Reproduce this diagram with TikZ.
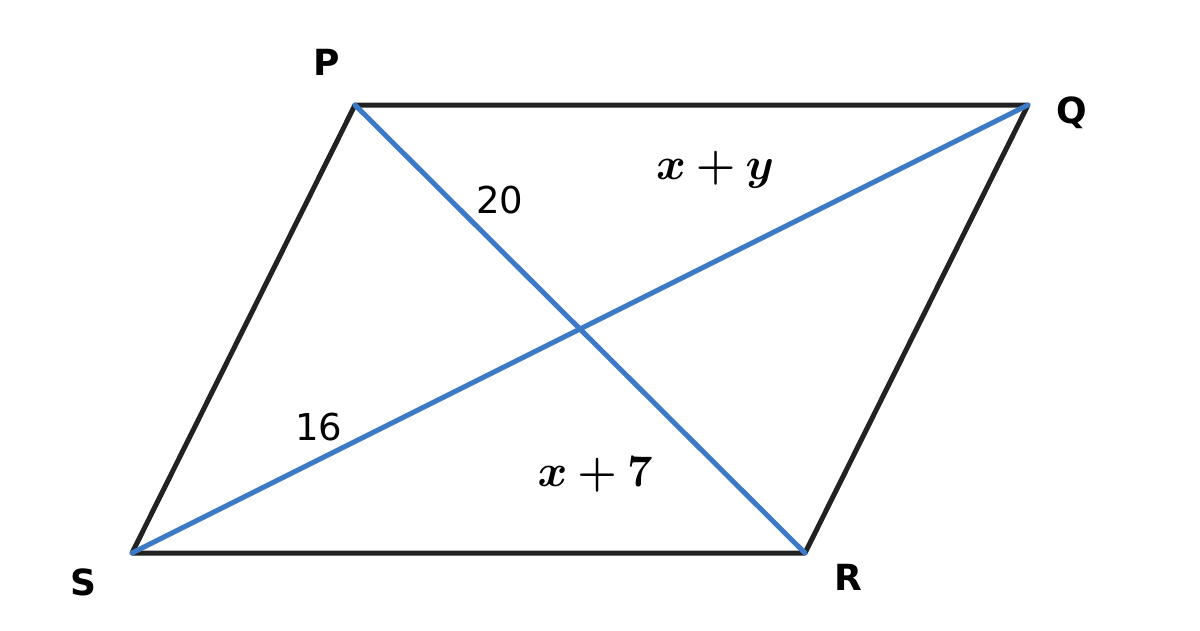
\documentclass[tikz,border=0pt]{standalone}
\usepackage{amsmath,bm,graphicx}
\usepackage{fontspec}
\newfontfamily\dejavu{DejaVu Sans}
\newfontfamily\dejavub{DejaVu Sans Bold}
\definecolor{edgeblack}{RGB}{34,34,34}
\definecolor{diagblue}{RGB}{60,122,200}
\newcommand{\bigmath}[1]{\scalebox{2.18}{$\bm{#1}$}}
\begin{document}
\begin{tikzpicture}[x=1pt,y=-1pt,
  side/.style={draw=edgeblack,line width=5pt,line cap=round,line join=round},
  diag/.style={draw=diagblue,line width=5pt,line cap=round},
  vlabel/.style={font=\dejavub\fontsize{36}{42}\selectfont},
  nlabel/.style={font=\dejavu\fontsize{37}{44}\selectfont},
  mlabel/.style={font=\fontsize{20}{24}\selectfont}]
\useasboundingbox (0,0) rectangle (1200,630);
\coordinate (P) at (355,105);
\coordinate (Q) at (1028,105);
\coordinate (R) at (805,553);
\coordinate (S) at (132,553);
\draw[side] (P) -- (Q) -- (R) -- (S) -- cycle;
\draw[diag] (P) -- (R);
\draw[diag] (S) -- (Q);
\node[vlabel] (lP) at (327,62) {P};
\node[vlabel] (lQ) at (1072,113) {Q};
\node[vlabel] (lR) at (848,577) {R};
\node[vlabel] (lS) at (83,582) {S};
\node[nlabel] (l20) at (500,200) {20};
\node[nlabel] (l16) at (319,427) {16};
\node[mlabel] (lxy) at (715,170) {\bigmath{x+y}};
\node[mlabel] (lx7) at (595,475) {\bigmath{x+7}};
\end{tikzpicture}
\end{document}
